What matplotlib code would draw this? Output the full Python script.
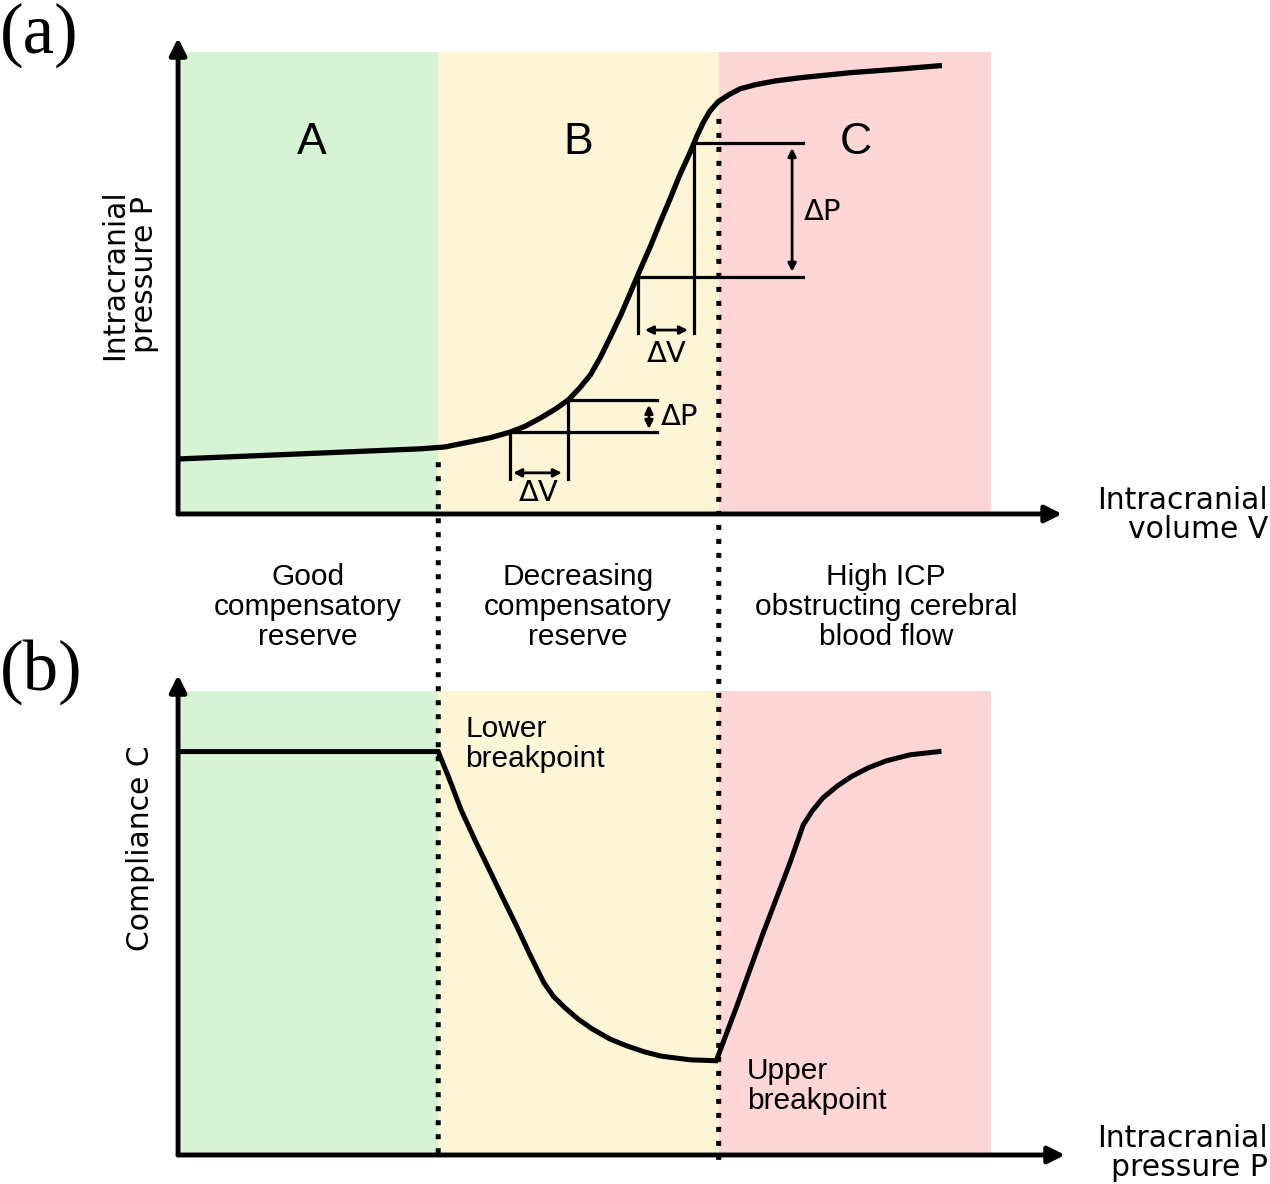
import matplotlib
matplotlib.use("Agg")
import matplotlib.pyplot as plt
from matplotlib.patches import ConnectionPatch

# zone limits on the volume axis (0..100 = coloured area)
zone_edges = [0, 32.0, 66.5, 100]
zone_colors = ["#d6f3d6", "#fdf5d6", "#ffd6d6"]
zone_letters = ["A", "B", "C"]
letter_x = [16.4, 49.2, 83.3]
zone_texts = ["Good\ncompensatory\nreserve",
              "Decreasing\ncompensatory\nreserve",
              "High ICP\nobstructing cerebral\nblood flow"]

# (a) pressure-volume curve
vol = [0.0, 15.0, 29.8, 32.8, 35.9, 38.4, 40.8, 42.7, 44.6, 46.4, 48.0,
       49.4, 50.7, 51.9, 53.1, 54.4, 55.6, 56.8, 58.1, 59.3, 60.5, 61.7,
       63.0, 63.8, 64.6, 65.4, 66.4, 67.7, 69.1, 71.0, 73.4, 76.5, 82.7,
       88.8, 93.6]
pres = [11.9, 13.0, 14.1, 14.5, 15.6, 16.5, 17.7, 19.0, 20.8, 22.7, 24.7,
        27.3, 30.1, 33.8, 38.1, 42.9, 47.8, 52.8, 58.0, 63.2, 68.2, 73.4,
        78.4, 81.8, 84.8, 87.2, 89.2, 90.7, 92.0, 92.9, 93.7, 94.4, 95.5,
        96.3, 97.0]

# (b) compliance curve
icp = [0.0, 32.0, 33.5, 34.8, 36.5, 38.3, 40.0, 41.7, 43.3, 45.0, 46.2,
       47.6, 49.2, 50.9, 53.1, 55.2, 57.4, 59.4, 63.0, 66.2, 68.8, 71.8,
       75.3, 76.9, 78.0, 79.3, 81.1, 82.8, 84.9, 87.1, 90.0, 93.6]
comp = [86.9, 86.9, 80.4, 74.4, 67.9, 61.4, 55.2, 49.1, 43.1, 37.1, 34.1,
        31.7, 29.3, 27.2, 25.0, 23.5, 22.2, 21.3, 20.5, 20.3, 32.4, 47.0,
        63.1, 71.1, 74.1, 76.9, 79.5, 81.5, 83.4, 84.9, 86.2, 86.9]

# delta construction: (V start, V end, P start, P end)
steps = [(40.8, 48.0, 17.7, 24.7), (56.5, 63.5, 51.3, 80.3)]

fig = plt.figure(figsize=(12.7, 11.84), dpi=100)
ax1 = fig.add_axes([0.1402, 0.5659, 0.6961, 0.4020])
ax2 = fig.add_axes([0.1402, 0.0245, 0.6984, 0.4054])
ax1.set_xlim(0, 108.7)
ax1.set_ylim(0, 103.0)
ax2.set_xlim(0, 109.1)
ax2.set_ylim(0, 103.4)

for ax in (ax1, ax2):
    for i in range(3):
        ax.bar(zone_edges[i], 100, width=zone_edges[i + 1] - zone_edges[i],
               align="edge", color=zone_colors[i], linewidth=0, zorder=0)
    for s in ax.spines.values():
        s.set_visible(False)
    ax.set_xticks([])
    ax.set_yticks([])
    ax.patch.set_alpha(0)
    # axis arrows
    ax.annotate("", xy=(1, 0), xytext=(0, 0), xycoords="axes fraction",
                arrowprops=dict(arrowstyle="-|>", lw=3.5, color="k",
                                mutation_scale=25, shrinkA=0, shrinkB=0))
    ax.annotate("", xy=(0, 1), xytext=(0, 0), xycoords="axes fraction",
                arrowprops=dict(arrowstyle="-|>", lw=3.5, color="k",
                                mutation_scale=25, shrinkA=0, shrinkB=0))

# curves
ax1.plot(vol, pres, color="k", lw=3.8, solid_joinstyle="round", zorder=5)
ax2.plot(icp, comp, color="k", lw=3.6, solid_joinstyle="miter", zorder=5)

# letters A B C
for xc, lab in zip(letter_x, zone_letters):
    ax1.text(xc, 80.3, lab, fontsize=32, family="Liberation Sans",
             ha="center", va="center")

# delta V / delta P construction lines
dfont = dict(fontsize=21, family="DejaVu Sans")
arr = dict(arrowstyle="<|-|>", lw=2, color="k", mutation_scale=12,
           shrinkA=0, shrinkB=0)
v0, v1, p0, p1 = steps[0]
ax1.plot([v0, v0], [p0, 7.6], color="k", lw=2.3)
ax1.plot([v1, v1], [p1, 7.6], color="k", lw=2.3)
ax1.plot([v0, 58.9], [p0, p0], color="k", lw=2.3)
ax1.plot([v1, 58.9], [p1, p1], color="k", lw=2.3)
ax1.annotate("", xy=(47.2, 8.9), xytext=(41.2, 8.9), arrowprops=arr)
ax1.annotate("", xy=(57.9, 23.6), xytext=(57.9, 18.4), arrowprops=arr)
ax1.text(44.3, 4.6, "ΔV", ha="center", va="center", **dfont)
ax1.text(59.3, 20.9, "ΔP", ha="left", va="center", **dfont)

v0, v1, p0, p1 = steps[1]
ax1.plot([v0, v0], [p0, 39.2], color="k", lw=2.3)
ax1.plot([v1, v1], [p1, 39.2], color="k", lw=2.3)
ax1.plot([v0, 76.9], [p0, p0], color="k", lw=2.3)
ax1.plot([v1, 76.9], [p1, p1], color="k", lw=2.3)
ax1.annotate("", xy=(62.7, 39.8), xytext=(57.4, 39.8), arrowprops=arr)
ax1.annotate("", xy=(75.5, 79.2), xytext=(75.5, 52.4), arrowprops=arr)
ax1.text(60.1, 34.6, "ΔV", ha="center", va="center", **dfont)
ax1.text(76.9, 65.4, "ΔP", ha="left", va="center", **dfont)

# dotted zone boundaries through both panels
for xb, ytop in [(zone_edges[1], 11.2), (zone_edges[2], 85.5)]:
    con = ConnectionPatch(xyA=(xb, ytop), coordsA=ax1.transData,
                          xyB=(xb, -1.5), coordsB=ax2.transData,
                          color="k", lw=3.6, linestyle=(0, (1, 1.8)),
                          capstyle="butt", zorder=4)
    fig.add_artist(con)

# breakpoint labels
bfont = dict(fontsize=21.5, family="Liberation Sans", linespacing=1.08)
ax2.text(35.3, 88.6, "Lower\nbreakpoint", ha="left", va="center", **bfont)
ax2.text(70.0, 14.9, "Upper\nbreakpoint", ha="left", va="center", **bfont)

# zone descriptions between panels
for xc, txt in zip([308, 578, 886], zone_texts):
    fig.text(xc / 1270, 0.4873, txt, ha="center", va="center",
             multialignment="center", **bfont)

# axis labels
lfont = dict(fontsize=21.5, family="DejaVu Sans", linespacing=1.0)
fig.text(0.1020, 0.7677, "Intracranial\npressure P", rotation=90,
         ha="center", va="center", multialignment="center", **lfont)
fig.text(0.1110, 0.2838, "Compliance C", rotation=90,
         ha="center", va="center", **lfont)
fig.text(0.9985, 0.565, "Intracranial\nvolume V", ha="right", va="center",
         multialignment="right", **lfont)
fig.text(0.9985, 0.0265, "Intracranial\npressure P", ha="right",
         va="center", multialignment="right", **lfont)

# panel tags
fig.text(0.0, 0.970, "(a)", fontsize=51, family="Liberation Serif",
         ha="left", va="center")
fig.text(0.0, 0.4324, "(b)", fontsize=51, family="Liberation Serif",
         ha="left", va="center")

fig.savefig("out.png", dpi=100)
